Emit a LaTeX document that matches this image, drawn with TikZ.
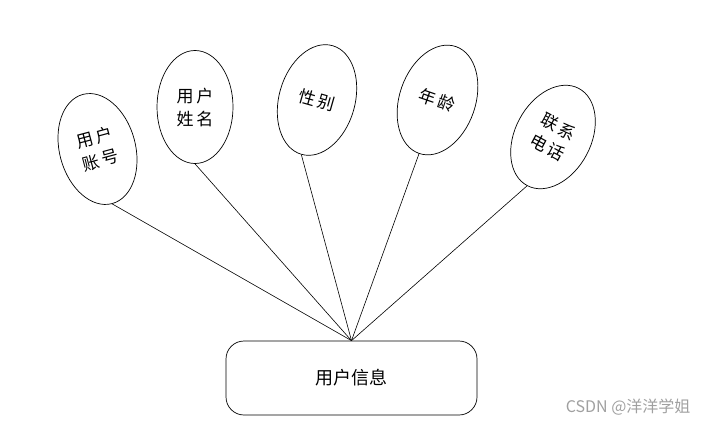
\documentclass[tikz,border=0pt]{standalone}
\usepackage{fontspec}
\setmainfont{Noto Sans CJK SC}
\usetikzlibrary{shapes.geometric}
\definecolor{wmgray}{HTML}{A0A0A0}
\begin{document}
\begin{tikzpicture}[x=1pt,y=-1pt,
  attr/.style={draw, ellipse, line width=0.7pt, minimum width=76pt, minimum height=113pt,
    inner sep=0pt, font=\fontsize{17}{23}\selectfont, align=center},
  entity/.style={draw, rounded corners=18pt, line width=0.7pt, minimum width=251pt,
    minimum height=74pt, font=\fontsize{18}{22}\selectfont},
  link/.style={line width=0.6pt}]
\useasboundingbox (0,0) rectangle (709,425);
\node[entity] (ui) at (351.5,378) {用户信息};
\node[attr, rotate=15] (e1) at (97.5,149) {用\,户\\账\,号};
\node[attr] (e2) at (195,107) {用\,户\\姓\,名};
\node[attr, rotate=-16] (e3) at (317,100) {性\,别};
\node[attr, rotate=-19] (e4) at (437.5,100) {年\,龄};
\node[attr, rotate=-28, minimum height=110pt] (e5) at (553,137) {联\,系\\电\,话};
\foreach \e in {e1,e2,e3,e4,e5} \draw[link] (\e.south) -- (ui.north);
\node[font=\fontsize{16}{20}\selectfont, text=wmgray, anchor=east] (wm) at (694,407) {CSDN @洋洋学姐};
\end{tikzpicture}
\end{document}
